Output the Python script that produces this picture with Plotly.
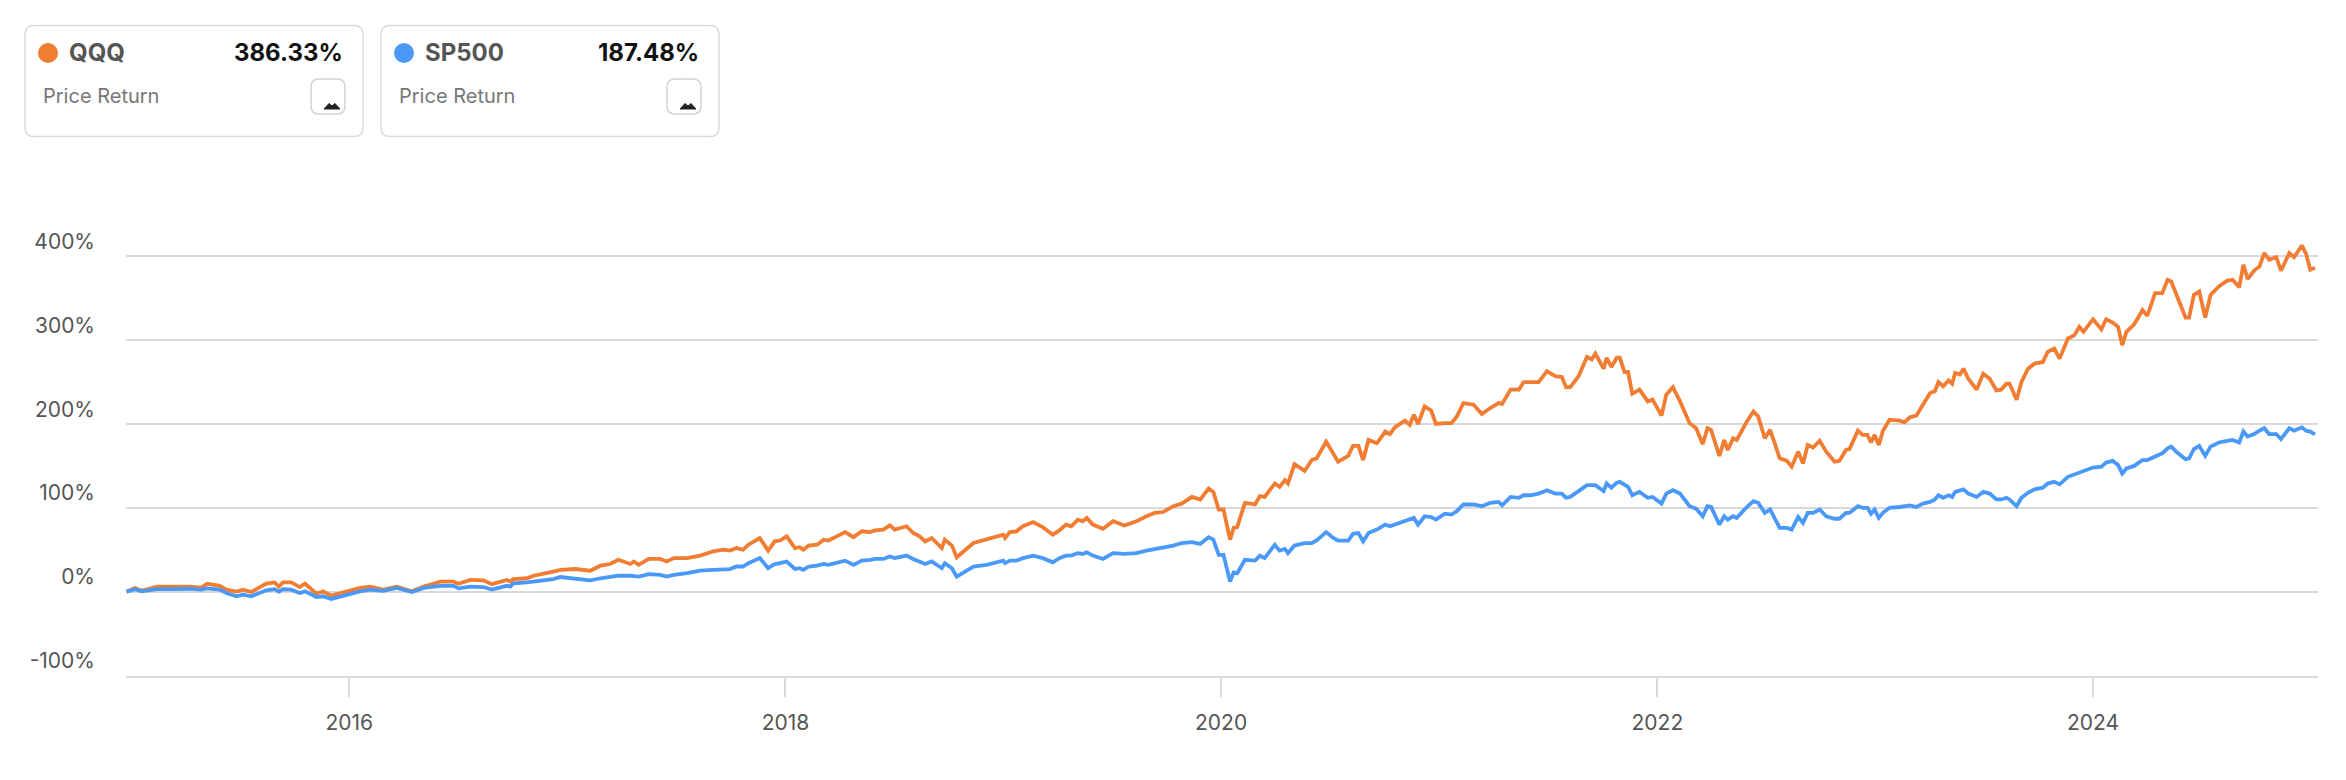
import plotly.graph_objects as go

# ---- data (cumulative price return, %) ----
dates = [
    "2014-12-24", "2015-01-07", "2015-01-18", "2015-02-13", "2015-03-13", "2015-04-09",
    "2015-04-28", "2015-05-08", "2015-05-29", "2015-06-09", "2015-06-26", "2015-07-07",
    "2015-07-21", "2015-08-15", "2015-08-29", "2015-09-05", "2015-09-12", "2015-09-26",
    "2015-10-10", "2015-10-19", "2015-11-07", "2015-11-18", "2015-12-02", "2015-12-28",
    "2016-01-19", "2016-02-05", "2016-02-27", "2016-03-21", "2016-04-15", "2016-05-05",
    "2016-06-02", "2016-06-24", "2016-07-02", "2016-07-22", "2016-08-13", "2016-08-27",
    "2016-09-21", "2016-09-27", "2016-10-02", "2016-10-25", "2016-11-05", "2016-12-08",
    "2016-12-20", "2017-01-14", "2017-02-08", "2017-02-25", "2017-03-13", "2017-03-27",
    "2017-04-16", "2017-04-22", "2017-04-30", "2017-05-17", "2017-06-05", "2017-06-16",
    "2017-06-28", "2017-07-20", "2017-08-11", "2017-09-02", "2017-09-19", "2017-09-30",
    "2017-10-11", "2017-10-22", "2017-10-31", "2017-11-19", "2017-12-03", "2017-12-14",
    "2017-12-23", "2018-01-03", "2018-01-17", "2018-01-25", "2018-01-31", "2018-02-09",
    "2018-02-23", "2018-03-06", "2018-03-14", "2018-03-28", "2018-04-11", "2018-04-25",
    "2018-05-09", "2018-05-23", "2018-05-31", "2018-06-14", "2018-06-25", "2018-07-03",
    "2018-07-23", "2018-08-03", "2018-08-14", "2018-08-23", "2018-09-03", "2018-09-20",
    "2018-09-25", "2018-10-07", "2018-10-15", "2018-11-12", "2018-12-04", "2018-12-15",
    "2019-01-01", "2019-01-04", "2019-01-12", "2019-01-23", "2019-02-03", "2019-02-20",
    "2019-03-08", "2019-03-25", "2019-04-05", "2019-04-16", "2019-04-25", "2019-05-06",
    "2019-05-14", "2019-05-21", "2019-05-31", "2019-06-17", "2019-07-04", "2019-07-23",
    "2019-08-12", "2019-08-29", "2019-09-12", "2019-09-26", "2019-10-13", "2019-10-27",
    "2019-11-13", "2019-11-27", "2019-12-11", "2019-12-19", "2019-12-28", "2020-01-05",
    "2020-01-16", "2020-01-22", "2020-01-28", "2020-02-10", "2020-02-27", "2020-03-06",
    "2020-03-14", "2020-03-31", "2020-04-08", "2020-04-17", "2020-04-22", "2020-05-03",
    "2020-05-20", "2020-06-01", "2020-06-09", "2020-06-25", "2020-07-07", "2020-07-15",
    "2020-08-01", "2020-08-09", "2020-08-18", "2020-08-26", "2020-09-04", "2020-09-18",
    "2020-10-02", "2020-10-10", "2020-10-18", "2020-11-04", "2020-11-12", "2020-11-19",
    "2020-11-26", "2020-12-07", "2020-12-18", "2020-12-26", "2021-01-10", "2021-01-21",
    "2021-01-30", "2021-02-10", "2021-02-27", "2021-03-13", "2021-03-27", "2021-04-10",
    "2021-04-16", "2021-04-30", "2021-05-14", "2021-05-22", "2021-06-02", "2021-06-16",
    "2021-06-30", "2021-07-14", "2021-07-25", "2021-08-01", "2021-08-08", "2021-08-22",
    "2021-09-05", "2021-09-13", "2021-09-19", "2021-10-03", "2021-10-08", "2021-10-16",
    "2021-10-25", "2021-10-30", "2021-11-07", "2021-11-13", "2021-11-20", "2021-12-02",
    "2021-12-16", "2021-12-24", "2022-01-08", "2022-01-16", "2022-01-27", "2022-02-08",
    "2022-02-24", "2022-03-07", "2022-03-18", "2022-03-26", "2022-04-01", "2022-04-15",
    "2022-04-23", "2022-04-29", "2022-05-08", "2022-05-14", "2022-05-31", "2022-06-11",
    "2022-06-19", "2022-06-30", "2022-07-09", "2022-07-25", "2022-08-06", "2022-08-14",
    "2022-08-25", "2022-09-02", "2022-09-10", "2022-09-19", "2022-09-30", "2022-10-11",
    "2022-10-25", "2022-11-02", "2022-11-13", "2022-11-19", "2022-12-03", "2022-12-11",
    "2022-12-19", "2022-12-25", "2022-12-31", "2023-01-07", "2023-01-14", "2023-01-25",
    "2023-02-11", "2023-02-19", "2023-02-28", "2023-03-11", "2023-03-22", "2023-04-03",
    "2023-04-11", "2023-04-17", "2023-04-25", "2023-05-04", "2023-05-10", "2023-05-15",
    "2023-05-23", "2023-05-29", "2023-06-06", "2023-06-20", "2023-07-01", "2023-07-12",
    "2023-07-23", "2023-07-31", "2023-08-09", "2023-08-14", "2023-08-26", "2023-09-03",
    "2023-09-14", "2023-09-25", "2023-10-09", "2023-10-17", "2023-10-28", "2023-11-06",
    "2023-11-20", "2023-12-01", "2023-12-09", "2023-12-16", "2024-01-01", "2024-01-15",
    "2024-01-23", "2024-02-03", "2024-02-12", "2024-02-19", "2024-02-26", "2024-03-10",
    "2024-03-24", "2024-04-01", "2024-04-14", "2024-04-26", "2024-05-05", "2024-05-11",
    "2024-05-21", "2024-06-04", "2024-06-10", "2024-06-18", "2024-06-27", "2024-07-07",
    "2024-07-16", "2024-07-30", "2024-08-13", "2024-08-22", "2024-09-02", "2024-09-09",
    "2024-09-16", "2024-09-27", "2024-10-06", "2024-10-14", "2024-10-22", "2024-11-03",
    "2024-11-11", "2024-11-25", "2024-12-03", "2024-12-16", "2024-12-23", "2024-12-30",
    "2025-01-07",
]

qqq = [
    0, 4.4, 1, 6, 6, 6, 4.8, 9.5, 7, 2.4, 0, 2.4,
    -0.4, 9.5, 11, 6, 11, 11, 5.5, 9.5, -2.4, 0.4, -4.8, 0.4,
    4.4, 6, 2.4, 6, 0.4, 6, 12, 12, 9.5, 14, 13.5, 9,
    14, 12, 15, 16, 19, 24, 26, 27, 25, 31, 33, 38,
    33, 36, 32, 39, 39, 36, 40, 40, 43, 48, 50, 49,
    52, 50, 56, 64, 49, 60, 61, 66, 52, 53, 50, 55,
    56, 62, 61, 66, 71, 65, 72, 71, 73, 74, 79, 74,
    78, 70, 66, 60, 64, 52, 62, 55, 41, 58, 62, 64,
    68, 64, 71, 72, 78, 83, 77, 68, 73, 80, 78, 86,
    84, 88, 80, 75, 84, 79, 84, 90, 94, 95, 102, 105,
    113, 110, 123, 119, 98, 98, 62, 76, 77, 106, 104, 114,
    113, 129, 125, 133, 129, 152, 144, 157, 159, 179, 165, 155,
    162, 174, 174, 157, 181, 177, 191, 188, 196, 204, 199, 211,
    200, 221, 216, 200, 201, 201, 209, 225, 223, 212, 219, 225,
    224, 241, 241, 250, 250, 250, 263, 257, 256, 244, 244, 257,
    280, 277, 284, 266, 279, 268, 279, 279, 262, 262, 236, 241,
    227, 229, 210, 235, 244, 227, 201, 195, 176, 195, 193, 162,
    181, 169, 183, 181, 203, 215, 209, 183, 193, 159, 156, 149,
    167, 153, 175, 172, 180, 167, 155, 156, 169, 170, 192, 187,
    187, 178, 187, 175, 192, 205, 204, 202, 208, 210, 223, 237,
    239, 250, 245, 252, 248, 261, 259, 266, 254, 241, 260, 254,
    240, 241, 248, 248, 229, 250, 266, 272, 274, 286, 290, 278,
    302, 306, 316, 310, 325, 313, 325, 321, 316, 294, 310, 319,
    336, 329, 356, 356, 372, 370, 352, 327, 327, 354, 358, 327,
    354, 364, 371, 372, 363, 390, 373, 383, 388, 404, 396, 399,
    383, 404, 399, 413, 403, 384, 386.33,
]

sp500 = [
    0, 3, 0.5, 3, 3, 3.5, 2.4, 4, 2.5, -1.6, -5.5, -3.6,
    -5.5, 1.6, 3, 0, 3, 2.4, -1.6, 0.4, -6.3, -5.5, -8.7, -3.6,
    0.4, 2.4, 1, 4.4, -0.4, 4.4, 7, 7, 4, 6, 5.5, 2.4,
    7, 6, 10, 11, 12, 15, 17.5, 16, 13.5, 16, 17.5, 19,
    19, 19, 18, 21, 20, 18, 20, 22, 25, 26, 26, 27,
    30, 30, 34, 40, 28, 33, 34, 36, 27, 28, 26, 30,
    31, 33, 32, 34, 37, 32, 37, 38, 39, 39, 42, 40,
    43, 39, 35, 33, 36, 28, 34, 28, 18, 30, 32, 34,
    37, 34, 37, 37, 40, 43, 40, 35, 40, 43, 43, 46,
    45, 47, 43, 39, 46, 45, 46, 49, 51, 52, 55, 58,
    59, 57, 65, 62, 44, 44, 12, 23, 22, 38, 37, 43,
    40, 56, 49, 51, 46, 55, 58, 58, 61, 71, 64, 61,
    61, 69, 70, 60, 70, 74, 80, 78, 80, 85, 86, 88,
    80, 90, 89, 86, 93, 92, 96, 104, 104, 102, 106, 107,
    103, 113, 112, 115, 115, 117, 121, 117, 117, 112, 113, 120,
    127, 127, 127, 120, 129, 124, 130, 131, 127, 125, 115, 119,
    112, 113, 105, 117, 121, 117, 102, 99, 90, 102, 101, 80,
    90, 86, 90, 88, 101, 108, 106, 94, 98, 76, 76, 74,
    89, 82, 94, 94, 98, 90, 87, 87, 94, 94, 102, 100,
    100, 93, 98, 88, 94, 100, 101, 102, 103, 101, 105, 107,
    110, 115, 112, 115, 113, 119, 121, 122, 117, 113, 119, 117,
    110, 110, 112, 110, 102, 112, 118, 122, 124, 129, 131, 128,
    137, 140, 142, 143, 148, 149, 154, 156, 151, 141, 147, 150,
    157, 157, 161, 165, 171, 173, 166, 158, 159, 170, 174, 162,
    173, 178, 180, 181, 178, 191, 185, 188, 192, 195, 188, 188,
    182, 195, 192, 196, 192, 191, 187.48,
]

year_ticks = ["2016-01-01", "2018-01-01", "2020-01-01", "2022-01-01", "2024-01-01"]
year_labels = ["2016", "2018", "2020", "2022", "2024"]
pct_ticks = [-100, 0, 100, 200, 300, 400, 500]
pct_labels = ["-100%", "0%", "100%", "200%", "300%", "400%", ""]

series = [
    ("QQQ", qqq, "#F07D32"),
    ("SP500", sp500, "#4A99F7"),
]

# ---- layout geometry, in pixels of the 2346x780 page ----
# the page body has an 8px margin, so the figure itself starts at (8, 8)
OFF = 8
W, H = 2346 - 2 * OFF, 780 - 2 * OFF
PL, PR, PT, PB = 126, 2318, 172, 676
FONT = "Inter, Roboto, Arial, sans-serif"
GRID = "#d9d9d9"


def px(x):
    return (x - PL) / (PR - PL)


def py(y):
    return (PB - y) / (PB - PT)


def rrect(x0, y0, x1, y1, r):
    p = [
        f"M {px(x0 + r)},{py(y0)}",
        f"L {px(x1 - r)},{py(y0)}",
        f"Q {px(x1)},{py(y0)} {px(x1)},{py(y0 + r)}",
        f"L {px(x1)},{py(y1 - r)}",
        f"Q {px(x1)},{py(y1)} {px(x1 - r)},{py(y1)}",
        f"L {px(x0 + r)},{py(y1)}",
        f"Q {px(x0)},{py(y1)} {px(x0)},{py(y1 - r)}",
        f"L {px(x0)},{py(y0 + r)}",
        f"Q {px(x0)},{py(y0)} {px(x0 + r)},{py(y0)}",
        "Z",
    ]
    return " ".join(p)


fig = go.Figure()
for name, vals, color in series:
    fig.add_trace(go.Scatter(
        x=dates, y=vals, mode="lines", name=name,
        line=dict(color=color, width=3.8),
        hoverinfo="skip",
    ))

shapes = []
annotations = []
card_left = [25, 381]
for (name, vals, color), L in zip(series, card_left):
    # card frame
    shapes.append(dict(type="path", xref="paper", yref="paper",
                       path=rrect(L, 25.5, L + 338, 136.5, 9),
                       line=dict(color="#d9d9d9", width=1.5)))
    # colour dot
    shapes.append(dict(type="circle", xref="paper", yref="paper",
                       x0=px(L + 13), x1=px(L + 33), y0=py(43), y1=py(63),
                       fillcolor=color, line=dict(width=0)))
    # small chart button
    shapes.append(dict(type="path", xref="paper", yref="paper",
                       path=rrect(L + 286, 79, L + 320, 114, 8),
                       line=dict(color="#d4d4d4", width=1.5)))
    g = [(L + 299, 109), (L + 304, 103.5), (L + 307, 106), (L + 310, 103.5), (L + 315, 109)]
    shapes.append(dict(type="path", xref="paper", yref="paper",
                       path="M " + " L ".join(f"{px(a)},{py(b)}" for a, b in g) + " Z",
                       fillcolor="#222222", line=dict(color="#222222", width=1)))
    annotations += [
        dict(x=px(L + 42), y=py(53), text=f"<b>{name}</b>", showarrow=False,
             xanchor="left", yanchor="middle", xref="paper", yref="paper",
             font=dict(family=FONT, size=24, color="#555555")),
        dict(x=px(L + 320), y=py(53), text=f"<b>{vals[-1]:.2f}%</b>", showarrow=False,
             xanchor="right", yanchor="middle", xref="paper", yref="paper",
             font=dict(family=FONT, size=24, color="#111111")),
        dict(x=px(L + 16), y=py(96), text="Price Return", showarrow=False,
             xanchor="left", yanchor="middle", xref="paper", yref="paper",
             font=dict(family=FONT, size=20, color="#777777")),
    ]

fig.update_layout(
    width=W, height=H,
    margin=dict(l=PL - OFF, r=W + OFF - PR, t=PT - OFF, b=H + OFF - PB),
    paper_bgcolor="white", plot_bgcolor="white",
    showlegend=False,
    shapes=shapes,
    annotations=annotations,
    font=dict(family=FONT, color="#555555"),
)
fig.update_xaxes(
    type="date", range=["2014-12-23", "2025-01-12"],
    tickvals=year_ticks, ticktext=year_labels,
    showgrid=False, zeroline=False,
    showline=True, linecolor=GRID, linewidth=2,
    ticks="outside", ticklen=19, tickwidth=2, tickcolor=GRID,
    ticklabelstandoff=8,
    tickfont=dict(family=FONT, size=21, color="#555555"),
)
fig.update_yaxes(
    range=[-100.6, 500.6],
    tickvals=pct_ticks, ticktext=pct_labels,
    showgrid=True, gridcolor=GRID, gridwidth=2,
    zeroline=False, showline=False, ticks="",
    ticklabelposition="outside top", ticklabelstandoff=30,
    tickfont=dict(family=FONT, size=21, color="#555555"),
)

fig.write_html("out.html")
